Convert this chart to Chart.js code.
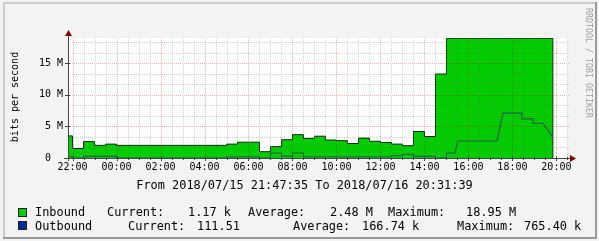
<!DOCTYPE html>
<html><head><meta charset="utf-8">
<script src="https://cdn.jsdelivr.net/npm/chart.js@4/dist/chart.umd.min.js"></script>
<style>
html,body{margin:0;padding:0;background:#f3f3f3;width:599px;height:241px;overflow:hidden}
#wrap{position:relative;width:599px;height:241px}
canvas{position:absolute;left:0;top:0}
.t{position:absolute;font-family:"DejaVu Sans Mono",monospace;font-size:11.9px;line-height:12px;color:#000;white-space:pre}
.sq{position:absolute;width:7px;height:7px;border:1px solid #222}
</style></head>
<body><div id="wrap">
<canvas id="c" width="599" height="241"></canvas>
<div class="t" style="left:-35px;top:91px;width:100px;text-align:center;font-size:10px;line-height:12px;transform:rotate(-90deg)">bits per second</div>
<div class="t" style="left:524px;top:58px;width:130px;text-align:center;font-size:8.3px;line-height:10px;color:#a0a0a0;transform:rotate(90deg)">RRDTOOL / TOBI OETIKER</div>
<div class="t" style="left:3px;width:603px;top:179px;text-align:center">From 2018/07/15 21:47:35 To 2018/07/16 20:31:39</div>
<div class="sq" style="left:18px;top:208px;background:#00CC00"></div>
<div class="sq" style="left:18px;top:221px;background:#002A97"></div>
<div class="t" style="left:35px;top:206px">Inbound</div>
<div class="t" style="left:107px;top:206px">Current:</div>
<div class="t" style="left:188px;top:206px">1.17 k</div>
<div class="t" style="left:248px;top:206px">Average:</div>
<div class="t" style="left:330px;top:206px">2.48 M</div>
<div class="t" style="left:388px;top:206px">Maximum:</div>
<div class="t" style="left:466px;top:206px">18.95 M</div>
<div class="t" style="left:35px;top:219.5px">Outbound</div>
<div class="t" style="left:128px;top:219.5px">Current:</div>
<div class="t" style="left:197px;top:219.5px">111.51</div>
<div class="t" style="left:293px;top:219.5px">Average:</div>
<div class="t" style="left:362px;top:219.5px">166.74 k</div>
<div class="t" style="left:457px;top:219.5px">Maximum:</div>
<div class="t" style="left:524px;top:219.5px">765.40 k</div>
</div>
<script>
// hours measured from 22:00 on 2018/07/15
const xStartHour = -0.2069;   // 21:47:35
const xEndHour = 22.5275;     // 20:31:39
const xTickHours = [0, 2, 4, 6, 8, 10, 12, 14, 16, 18, 20, 22];
const xTickLabels = ['22:00','00:00','02:00','04:00','06:00','08:00','10:00','12:00','14:00','16:00','18:00','20:00'];
const yTickValues = [0, 5, 10, 15];
const yTickLabels = ['0  ', '5 M', '10 M', '15 M'];
const yMax = 19.0;

// Inbound (M bits/s), 30-minute slots, first slot 21:30-22:00
const inboundSlotStart = -0.5;
const inboundSlotLength = 0.5;
const inboundValues = [3.5, 1.5, 2.6, 2.0, 2.2,
  2.0, 2.0, 2.0, 2.0, 2.0, 2.0, 2.0, 2.0, 2.0, 2.0,
  2.2, 2.5, 2.5, 1.0, 1.8, 2.9, 3.7, 3.1, 3.45, 2.85,
  2.75, 2.3, 3.15, 2.65, 2.45, 2.2, 1.95, 4.2, 3.4, 13.3,
  18.95, 18.95, 18.95, 18.95, 18.95, 18.95, 18.95, 18.95, 18.95, 18.95];
const inboundEndHour = 21.84;

// Outbound line (M bits/s)
const outboundHours = [-0.21, 0, 0, 0.5, 0.5, 2.0, 2.0, 7.0, 7.0, 8.5, 8.5, 9.0, 9.0, 9.5, 9.5, 10.0, 10.0, 10.5, 10.5, 14.5, 14.5, 15.0, 15.0, 15.5, 15.5, 16.5, 16.5, 17.0, 17.0, 17.39, 17.52, 19.30, 19.57, 20.43, 20.43, 20.93, 20.93, 21.39, 21.84];
const outboundValues = [0.2, 0.2, 0, 0, 0.25, 0.25, 0, 0, 0.2, 0.2, 0, 0, 0.8, 0.8, 0.3, 0.3, 0.8, 0.8, 0.2, 0.2, 0.35, 0.35, 0.6, 0.6, 0.25, 0.25, 0, 0, 0.8, 0.8, 2.7, 2.7, 7.1, 7.1, 6.2, 6.2, 5.5, 5.5, 3.3];

// each slot value holds from the slot's start until the next slot
const inboundData = inboundValues.map((v, i) => ({x: inboundSlotStart + i * inboundSlotLength, y: v}));
inboundData.push({x: inboundEndHour, y: inboundValues[inboundValues.length - 1]});
inboundData.push({x: inboundEndHour, y: 0});
const outboundData = outboundHours.map((h, i) => ({x: h, y: outboundValues[i]}));

const rrdPlugin = {
  id: 'rrd',
  beforeDraw(chart) {
    const ctx = chart.ctx, a = chart.chartArea;
    ctx.save();
    ctx.fillStyle = '#f3f3f3';
    ctx.fillRect(0, 0, chart.width, chart.height);
    ctx.fillStyle = '#cbcbcb';
    ctx.fillRect(3, 2, 594, 2);
    ctx.fillRect(3, 2, 2, 237);
    ctx.fillStyle = '#9a9a9a';
    ctx.fillRect(3, 237, 594, 2);
    ctx.fillRect(595, 2, 2, 237);
    ctx.fillStyle = '#ffffff';
    ctx.fillRect(a.left, a.top, a.right - a.left, a.bottom - a.top);
    ctx.restore();
  },
  afterDatasetsDraw(chart) {
    const ctx = chart.ctx, a = chart.chartArea;
    const xs = chart.scales.x, ys = chart.scales.y;
    ctx.save();
    ctx.lineWidth = 1;
    ctx.setLineDash([1, 1]);
    for (let k = Math.ceil(xs.min * 2); k <= Math.floor(xs.max * 2); k++) {
      const x = Math.round(xs.getPixelForValue(k / 2)) + 0.5;
      ctx.strokeStyle = (k % 4 === 0) ? 'rgba(210,0,0,0.3)' : 'rgba(110,110,110,0.3)';
      ctx.beginPath(); ctx.moveTo(x, a.top); ctx.lineTo(x, a.bottom); ctx.stroke();
    }
    for (let k = 1; k * 5 / 3 <= ys.max; k++) {
      const y = Math.round(ys.getPixelForValue(k * 5 / 3)) + 0.5;
      ctx.strokeStyle = (k % 3 === 0) ? 'rgba(210,0,0,0.3)' : 'rgba(110,110,110,0.3)';
      ctx.beginPath(); ctx.moveTo(a.left, y); ctx.lineTo(a.right + 2, y); ctx.stroke();
    }
    ctx.setLineDash([]);
    ctx.strokeStyle = '#3a4a44';
    const yb = Math.round(a.bottom) + 0.5, xl = Math.round(a.left) + 0.5;
    ctx.beginPath(); ctx.moveTo(a.left - 4, yb); ctx.lineTo(a.right + 3, yb); ctx.stroke();
    ctx.beginPath(); ctx.moveTo(xl, a.bottom + 3); ctx.lineTo(xl, a.top - 3); ctx.stroke();
    for (let k = Math.ceil(xs.min * 2); k <= Math.floor(xs.max * 2); k++) {
      const x = Math.round(xs.getPixelForValue(k / 2)) + 0.5;
      const major = k % 4 === 0;
      ctx.beginPath(); ctx.moveTo(x, a.bottom - (major ? 2 : 1)); ctx.lineTo(x, a.bottom + (major ? 3 : 2)); ctx.stroke();
    }
    for (const v of yTickValues) {
      const y = Math.round(ys.getPixelForValue(v)) + 0.5;
      ctx.beginPath(); ctx.moveTo(a.left - 3, y); ctx.lineTo(a.left + 2, y); ctx.stroke();
    }
    ctx.fillStyle = '#7f0000';
    ctx.beginPath(); ctx.moveTo(a.right + 2, yb - 3.5); ctx.lineTo(a.right + 8, yb); ctx.lineTo(a.right + 2, yb + 3.5); ctx.closePath(); ctx.fill();
    ctx.beginPath(); ctx.moveTo(xl - 3.5, a.top - 2); ctx.lineTo(xl, a.top - 8); ctx.lineTo(xl + 3.5, a.top - 2); ctx.closePath(); ctx.fill();
    ctx.restore();
  }
};

new Chart(document.getElementById('c'), {
  type: 'line',
  data: {
    datasets: [
      {label: 'Inbound', data: inboundData, stepped: 'before', fill: 'origin',
       backgroundColor: '#00cc00', borderColor: '#102a10', borderWidth: 1, pointRadius: 0, order: 2},
      {label: 'Outbound', data: outboundData, fill: false, tension: 0,
       borderColor: '#2a5a4e', borderWidth: 1.1, pointRadius: 0, order: 1}
    ]
  },
  options: {
    responsive: false, animation: false, devicePixelRatio: 1,
    layout: {padding: {left: 0, top: 38, right: 31, bottom: 0}},
    plugins: {legend: {display: false}, tooltip: {enabled: false}, title: {display: false}},
    scales: {
      x: {
        type: 'linear', min: xStartHour, max: xEndHour,
        grid: {display: false, drawTicks: false}, border: {display: false},
        afterBuildTicks: s => { s.ticks = xTickHours.map(v => ({value: v})); },
        afterFit: s => { s.height = 83; },
        ticks: {autoSkip: false, maxRotation: 0, padding: 3, color: '#000',
          font: {family: 'DejaVu Sans Mono', size: 10},
          callback: (v, i) => xTickLabels[i]}
      },
      y: {
        type: 'linear', min: 0, max: yMax,
        grid: {display: false, drawTicks: false}, border: {display: false},
        afterBuildTicks: s => { s.ticks = yTickValues.map(v => ({value: v})); },
        afterFit: s => { s.width = 68; },
        ticks: {autoSkip: false, padding: 5, color: '#000',
          font: {family: 'DejaVu Sans Mono', size: 10},
          callback: (v, i) => yTickLabels[i]}
      }
    }
  },
  plugins: [rrdPlugin]
});
</script>
</body></html>
